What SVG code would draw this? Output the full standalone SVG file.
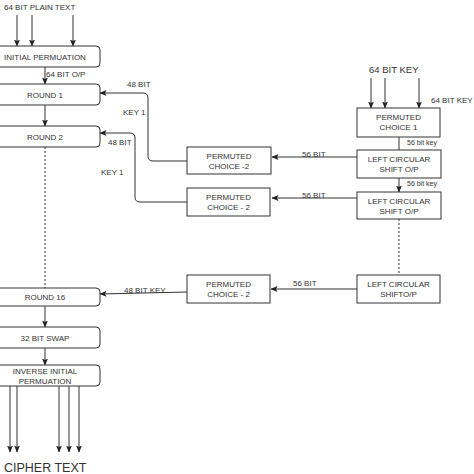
<svg xmlns="http://www.w3.org/2000/svg" width="474" height="474" viewBox="0 0 474 474">
<style>
.box{fill:#fff;stroke:#333;stroke-width:1}
.ln{fill:none;stroke:#333;stroke-width:1}
.dot{fill:none;stroke:#333;stroke-width:1;stroke-dasharray:2,2}
text{font-family:"Liberation Sans",Arial,sans-serif;fill:#333;font-size:8px}
.c{text-anchor:middle}
.sm{font-size:7px}
.lg{font-size:9.5px}
.xl{font-size:12.5px}
</style>
<defs>
<marker id="ah" markerWidth="7" markerHeight="6" refX="6.5" refY="3" orient="auto" markerUnits="userSpaceOnUse">
<path d="M0,0 L7,3 L0,6 L1.5,3 z" fill="#222"/>
</marker>
</defs>
<rect width="474" height="474" fill="#fff"/>

<g id="connectors">
<line class="ln" x1="17" y1="15" x2="17" y2="46" marker-end="url(#ah)"/>
<line class="ln" x1="32" y1="15" x2="32" y2="46" marker-end="url(#ah)"/>
<line class="ln" x1="73" y1="15" x2="73" y2="46" marker-end="url(#ah)"/>
<line class="ln" x1="45" y1="67" x2="45" y2="84" marker-end="url(#ah)"/>
<line class="ln" x1="45" y1="105" x2="45" y2="126" marker-end="url(#ah)"/>
<line class="dot" x1="45" y1="147" x2="45" y2="288"/>
<line class="ln" x1="45" y1="306" x2="45" y2="327" marker-end="url(#ah)"/>
<line class="ln" x1="45" y1="348" x2="45" y2="365" marker-end="url(#ah)"/>
<line class="ln" x1="10" y1="386" x2="10" y2="452" marker-end="url(#ah)"/>
<line class="ln" x1="17" y1="386" x2="17" y2="452" marker-end="url(#ah)"/>
<line class="ln" x1="59" y1="386" x2="59" y2="452" marker-end="url(#ah)"/>
<line class="ln" x1="69" y1="386" x2="69" y2="452" marker-end="url(#ah)"/>
<line class="ln" x1="79" y1="386" x2="79" y2="452" marker-end="url(#ah)"/>
<line class="ln" x1="371" y1="78" x2="371" y2="108" marker-end="url(#ah)"/>
<line class="ln" x1="385" y1="78" x2="385" y2="108" marker-end="url(#ah)"/>
<line class="ln" x1="419" y1="78" x2="419" y2="108" marker-end="url(#ah)"/>
<line class="ln" x1="399" y1="137" x2="399" y2="150"/>
<line class="ln" x1="399" y1="178" x2="399" y2="192" marker-end="url(#ah)"/>
<line class="dot" x1="399" y1="219" x2="399" y2="275"/>
<line class="ln" x1="357" y1="157" x2="272" y2="157" marker-end="url(#ah)"/>
<line class="ln" x1="357" y1="198" x2="272" y2="198" marker-end="url(#ah)"/>
<line class="ln" x1="357" y1="289" x2="271" y2="289" marker-end="url(#ah)"/>
<path class="ln" d="M187,161 L153,161 Q148,161 148,156 L148,98 Q148,93 143,93 L100,93" marker-end="url(#ah)"/>
<path class="ln" d="M187,202 L140,202 Q135,202 135,197 L135,138 Q135,133 130,133 L100,133" marker-end="url(#ah)"/>
<line class="ln" x1="187" y1="292" x2="100" y2="294" marker-end="url(#ah)"/>
</g>

<g id="labels">
<text x="4" y="10">64 BIT PLAIN TEXT</text>
<text x="46" y="77">64 BIT O/P</text>
<text x="127" y="87">48 BIT</text>
<text x="123" y="115">KEY 1</text>
<text x="108" y="145">48 BIT</text>
<text x="101" y="175">KEY 1</text>
<text x="124" y="293">48 BIT KEY</text>
<text x="302" y="157">56 BIT</text>
<text x="302" y="198">56 BIT</text>
<text x="293" y="286">56 BIT</text>
<text class="lg" x="369" y="73">64 BIT KEY</text>
<text x="431" y="103">64 BIT KEY</text>
<text class="sm" x="407" y="145">56 bit key</text>
<text class="sm" x="407" y="186">56 bit key</text>
<text class="xl" x="4" y="472">CIPHER TEXT</text>
</g>

<g id="initial-permutation"><rect class="box" x="-10" y="46" width="110" height="21" rx="4"/><text class="c" x="45" y="59.5">INITIAL PERMUATION</text></g>
<g id="round1"><rect class="box" x="-10" y="84" width="110" height="21" rx="4"/><text class="c" x="45" y="97.5">ROUND 1</text></g>
<g id="round2"><rect class="box" x="-10" y="126" width="110" height="21" rx="4"/><text class="c" x="45" y="139.5">ROUND 2</text></g>
<g id="round16"><rect class="box" x="-10" y="288" width="110" height="18" rx="4"/><text class="c" x="45" y="300">ROUND 16</text></g>
<g id="swap"><rect class="box" x="-10" y="327" width="110" height="21" rx="4"/><text class="c" x="45" y="340.5">32 BIT SWAP</text></g>
<g id="inverse-ip"><rect class="box" x="-10" y="365" width="110" height="21" rx="4"/><text class="c" x="45" y="374">INVERSE INITIAL</text><text class="c" x="45" y="383.5">PERMUATION</text></g>

<g id="pc1"><rect class="box" x="357" y="108" width="83" height="29"/><text class="c" x="398.5" y="120">PERMUTED</text><text class="c" x="398.5" y="130">CHOICE 1</text></g>
<g id="lcs1"><rect class="box" x="357" y="150" width="84" height="28"/><text class="c" x="399" y="162">LEFT CIRCULAR</text><text class="c" x="399" y="172">SHIFT O/P</text></g>
<g id="lcs2"><rect class="box" x="357" y="192" width="84" height="27"/><text class="c" x="399" y="204">LEFT CIRCULAR</text><text class="c" x="399" y="214">SHIFT O/P</text></g>
<g id="lcs16"><rect class="box" x="357" y="275" width="83" height="28"/><text class="c" x="398.5" y="287">LEFT CIRCULAR</text><text class="c" x="398.5" y="297">SHIFTO/P</text></g>

<g id="pc2-1"><rect class="box" x="187" y="147" width="84" height="27"/><text class="c" x="229" y="159">PERMUTED</text><text class="c" x="229" y="169">CHOICE -2</text></g>
<g id="pc2-2"><rect class="box" x="187" y="188" width="83" height="28"/><text class="c" x="228.5" y="200">PERMUTED</text><text class="c" x="228.5" y="210">CHOICE - 2</text></g>
<g id="pc2-16"><rect class="box" x="187" y="275" width="83" height="28"/><text class="c" x="228.5" y="287">PERMUTED</text><text class="c" x="228.5" y="297">CHOICE - 2</text></g>
</svg>
